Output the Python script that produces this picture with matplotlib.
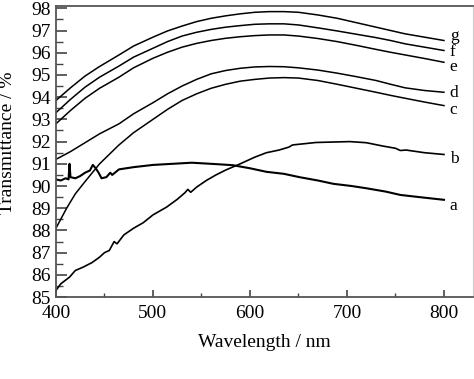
import numpy as np
import matplotlib
matplotlib.use("Agg")
import matplotlib.pyplot as plt
from matplotlib.ticker import MultipleLocator

plt.rcParams['font.family'] = ['Liberation Serif', 'DejaVu Serif']

#### Dados ####
wl = [400, 415, 430, 445, 465, 480, 500, 515, 530, 545, 560, 575, 590, 605, 620,
      635, 650, 670, 690, 710, 730, 745, 760, 780, 800]
t_g = [93.85, 94.42, 94.95, 95.38, 95.9, 96.3, 96.7, 96.98, 97.2, 97.4, 97.55, 97.66, 97.75, 97.82, 97.85,
       97.85, 97.82, 97.7, 97.55, 97.35, 97.15, 97.0, 96.85, 96.7, 96.55]
t_f = [93.3, 93.9, 94.45, 94.9, 95.4, 95.8, 96.2, 96.5, 96.75, 96.92, 97.05, 97.15, 97.22, 97.28, 97.3,
       97.3, 97.25, 97.12, 96.98, 96.83, 96.68, 96.55, 96.4, 96.25, 96.1]
t_e = [92.8, 93.4, 93.95, 94.4, 94.9, 95.32, 95.75, 96.02, 96.25, 96.42, 96.55, 96.65, 96.72, 96.77, 96.8,
       96.8, 96.75, 96.64, 96.5, 96.33, 96.15, 96.02, 95.9, 95.74, 95.57]
t_d = [91.2, 91.55, 91.95, 92.35, 92.8, 93.25, 93.75, 94.15, 94.5, 94.8, 95.05, 95.2, 95.3, 95.36, 95.38,
       95.37, 95.32, 95.22, 95.08, 94.92, 94.75, 94.58, 94.42, 94.3, 94.22]

wl_c = [400, 411, 420, 430, 445, 465, 480, 500, 515, 530, 545, 560, 575, 590, 605,
        620, 635, 650, 670, 690, 710, 730, 745, 760, 780, 800]
t_c = [88.1, 89.0, 89.65, 90.2, 91.0, 91.85, 92.4, 93.0, 93.45, 93.85, 94.15, 94.4, 94.58, 94.72, 94.8,
       94.86, 94.88, 94.86, 94.75, 94.58, 94.4, 94.22, 94.08, 93.95, 93.78, 93.62]

wl_b = [400, 405, 414, 420, 428, 437, 445, 450, 455, 460, 463, 470, 480, 490, 500,
        514, 525, 533, 536, 539, 545, 555, 565, 575, 590, 605, 617, 630, 640, 644,
        655, 668, 685, 703, 720, 737, 750, 755, 761, 780, 800]
t_b = [85.3, 85.6, 85.9, 86.2, 86.35, 86.55, 86.8, 87.0, 87.1, 87.5, 87.4, 87.8, 88.1, 88.35, 88.7,
       89.05, 89.4, 89.7, 89.85, 89.72, 89.95, 90.25, 90.5, 90.72, 91.0, 91.3, 91.5, 91.62, 91.75, 91.85,
       91.9, 91.96, 91.98, 92.0, 91.95, 91.8, 91.7, 91.6, 91.62, 91.5, 91.42]

wl_a = [400, 405, 410, 413, 414, 415, 420, 425, 430, 435, 438, 441, 444, 447, 452,
        456, 458, 465, 480, 500, 520, 540, 560, 582, 600, 617, 635, 651, 670, 686,
        705, 720, 740, 755, 775, 800]
t_a = [90.3, 90.25, 90.35, 90.3, 91.0, 90.4, 90.35, 90.45, 90.6, 90.7, 90.95, 90.8, 90.6, 90.35, 90.4,
       90.6, 90.5, 90.75, 90.85, 90.95, 91.0, 91.05, 91.0, 90.94, 90.8, 90.64, 90.55, 90.4, 90.25, 90.1,
       90.0, 89.9, 89.75, 89.6, 89.5, 89.38]

rotulos = ['g', 'f', 'e', 'd', 'c', 'b', 'a']
pos_rotulos = [96.75, 96.05, 95.35, 94.18, 93.4, 91.2, 89.1]

#### Gráfico ####
fig = plt.figure(figsize=(4.74, 3.79), dpi=100)
ax = fig.add_axes([0.118, 0.216, 0.880, 0.768])

for y in (t_g, t_f, t_e, t_d):
    ax.plot(wl, y, color='black', lw=1.1)
ax.plot(wl_c, t_c, color='black', lw=1.1)
ax.plot(wl_b, t_b, color='black', lw=1.2)
ax.plot(wl_a, t_a, color='black', lw=1.5)

for rot, yy in zip(rotulos, pos_rotulos):
    ax.text(806, yy, rot, fontsize=12.5, va='center', ha='left')

ax.set_xlim(400, 830)
ax.set_ylim(85, 98.1)
ax.xaxis.set_minor_locator(MultipleLocator(50))
ax.yaxis.set_major_locator(MultipleLocator(1))
ax.yaxis.set_minor_locator(MultipleLocator(0.5))
ax.set_xticks([400, 500, 600, 700, 800])
ax.tick_params(axis='both', which='both', direction='in', labelsize=14, colors='#444444',
               labelcolor='black', top=False, right=False)
ax.tick_params(axis='y', which='major', length=8, width=1.2)
ax.tick_params(axis='y', which='minor', length=5, width=1.0)
ax.tick_params(axis='x', which='major', length=5, width=1.2, pad=6)
ax.tick_params(axis='x', which='minor', length=3, width=1.0)

for lado in ('left', 'bottom', 'top'):
    ax.spines[lado].set_color('#555555')
    ax.spines[lado].set_linewidth(1.3)
ax.spines['right'].set_color('#cccccc')

ax.set_xlabel('Wavelength / nm', fontsize=14, labelpad=8)
ax.set_ylabel('Transmittance / %', fontsize=14, labelpad=6)
ax.yaxis.set_label_coords(-0.095, 0.53)

fig.savefig('out.png', dpi=100)
plt.close(fig)
